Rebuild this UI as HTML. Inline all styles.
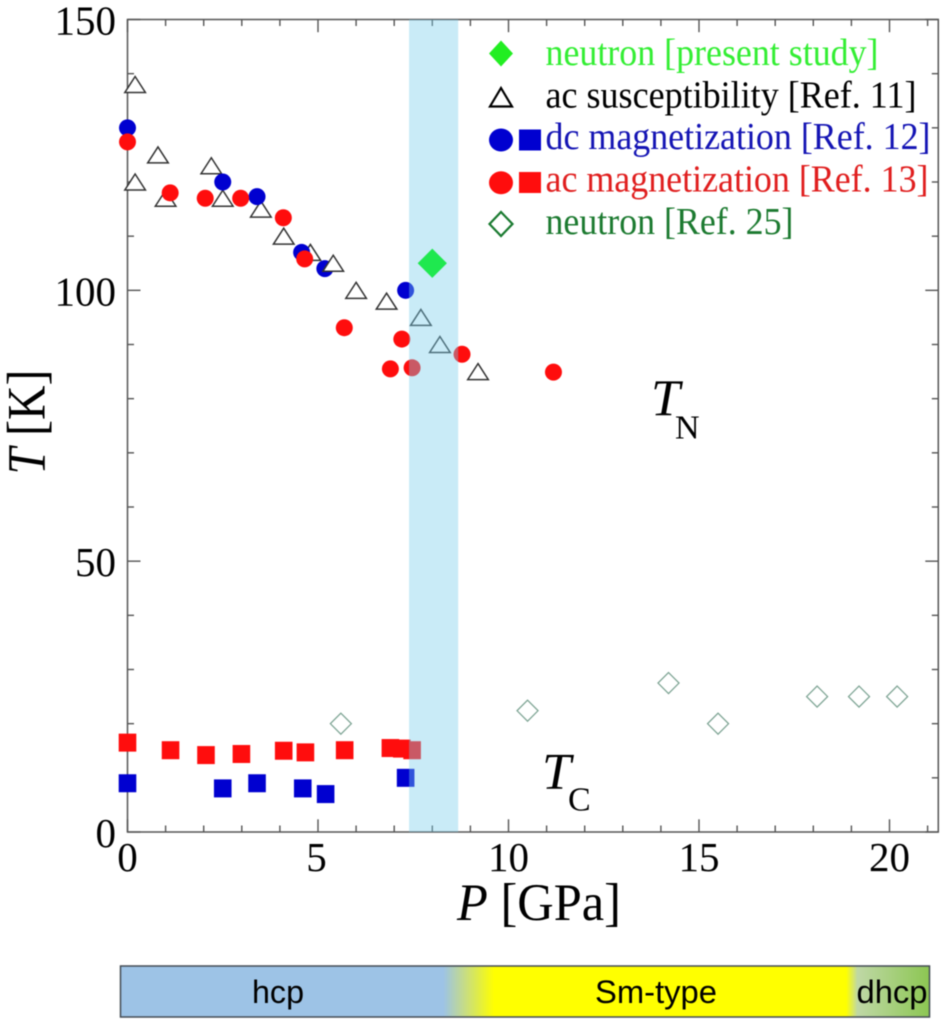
<!DOCTYPE html>
<html>
<head>
<meta charset="utf-8">
<title>Phase diagram T vs P</title>
<style>
html,body{margin:0;padding:0;background:#fff;}
svg{display:block;font-family:"Liberation Serif",serif;filter:blur(0.4px);}
</style>
</head>
<body>
<svg id="chart" width="944" height="1026" viewBox="0 0 944 1026" xmlns="http://www.w3.org/2000/svg">
  <defs>
    <linearGradient id="phaseGrad" gradientUnits="userSpaceOnUse" x1="120.5" y1="0" x2="929.5" y2="0">
      <stop offset="0" stop-color="#9dc3e6"/>
      <stop offset="0.399" stop-color="#9dc3e6"/>
      <stop offset="0.462" stop-color="#ffff00"/>
      <stop offset="0.897" stop-color="#ffff00"/>
      <stop offset="0.911" stop-color="#bfd8a6"/>
      <stop offset="1" stop-color="#8cc652"/>
    </linearGradient>
  </defs>
  <g id="axes"></g>
  <g id="marks"></g>
  <g id="legend">
    <polygon points="501,40.5 513,53.5 501,66.5 489,53.5" fill="#22ee22"/>
    <text x="545.5" y="65" font-size="38" fill="#33ee33" textLength="333" lengthAdjust="spacingAndGlyphs">neutron [present study]</text>
    <polygon points="501,88 512,106.5 490,106.5" fill="none" stroke="#000" stroke-width="2.2"/>
    <text x="545.5" y="107.3" font-size="38" fill="#000" textLength="371" lengthAdjust="spacingAndGlyphs">ac susceptibility [Ref. 11]</text>
    <ellipse cx="501" cy="140" rx="12" ry="11.5" fill="#0000d0"/>
    <rect x="519" y="129.5" width="22" height="21" fill="#0000d0"/>
    <text x="545.5" y="149" font-size="38" fill="#1414b4" textLength="385" lengthAdjust="spacingAndGlyphs">dc magnetization [Ref. 12]</text>
    <ellipse cx="501" cy="182.7" rx="12" ry="11.5" fill="#ff0d0d"/>
    <rect x="519" y="172" width="22" height="21" fill="#ff0d0d"/>
    <text x="545.5" y="191.7" font-size="38" fill="#e01e1e" textLength="383" lengthAdjust="spacingAndGlyphs">ac magnetization [Ref. 13]</text>
    <polygon points="501,212 512.5,224 501,236 489.5,224" fill="none" stroke="#1a7a30" stroke-width="2.2"/>
    <text x="545.5" y="234" font-size="38" fill="#1c7a30" textLength="248" lengthAdjust="spacingAndGlyphs">neutron [Ref. 25]</text>
  </g>
  <text transform="translate(44.7,474.5) rotate(-90)" font-size="54" fill="#000" textLength="105" lengthAdjust="spacingAndGlyphs"><tspan font-style="italic">T</tspan> [K]</text>
  <text x="457" y="920" font-size="53" fill="#000" textLength="164" lengthAdjust="spacingAndGlyphs"><tspan font-style="italic">P</tspan> [GPa]</text>
  <g>
    <text x="651" y="415.7" font-size="52" font-style="italic" fill="#000">T</text>
    <text x="675" y="438.3" font-size="34" fill="#000">N</text>
  </g>
  <g>
    <text x="542" y="789" font-size="52" font-style="italic" fill="#000">T</text>
    <text x="568" y="810.7" font-size="34" fill="#000">C</text>
  </g>
  <g style='font-family:"Liberation Sans",sans-serif'>
    <rect x="120.5" y="966" width="809" height="51" fill="url(#phaseGrad)" stroke="#444c55" stroke-width="1.5"/>
    <text x="252" y="1003" font-size="32" fill="#000" textLength="52" lengthAdjust="spacingAndGlyphs">hcp</text>
    <text x="595" y="1003" font-size="32" fill="#000" textLength="122" lengthAdjust="spacingAndGlyphs">Sm-type</text>
    <text x="856.5" y="1003" font-size="32" fill="#000" textLength="71" lengthAdjust="spacingAndGlyphs">dhcp</text>
  </g>
<script>
const xMajorTicks = [0, 5, 10, 15, 20];
const xMinorTicks = [1, 2, 3, 4, 6, 7, 8, 9, 11, 12, 13, 14, 16, 17, 18, 19, 21];
const yMajorTicks = [0, 50, 100, 150];
const yMinorTicks = [10, 20, 30, 40, 60, 70, 80, 90, 110, 120, 130, 140];
const highlightBand = [7.39, 8.68];

const acSuscP = [0.2, 0.2, 0.8, 1.0, 2.2, 2.5, 3.5, 4.1, 4.8, 6.0, 6.8, 7.7, 8.2, 9.2];
const acSuscT = [138, 120, 125, 117, 123, 117, 115, 110, 107, 100, 98, 95, 90, 85];
const acSuscFrontP = [5.4];
const acSuscFrontT = [105];

const dcCircleP = [0, 2.5, 3.4, 4.57, 5.18, 7.3];
const dcCircleT = [130, 120, 117.3, 107, 104, 100];
const acCircleP = [0, 1.12, 2.04, 2.97, 4.09, 4.65, 5.69, 7.2, 6.9, 7.47, 8.78, 11.18];
const acCircleT = [127.4, 118, 117, 117, 113.4, 105.8, 93.1, 91, 85.5, 85.7, 88.2, 84.9];

const acSquareP = [0, 1.13, 2.06, 2.99, 4.1, 4.67, 5.7, 6.9, 7.2, 7.47];
const acSquareT = [16.5, 15.1, 14.2, 14.4, 15, 14.7, 15.1, 15.5, 15.4, 15.1];
const dcSquareP = [0, 2.5, 3.4, 4.6, 5.2, 7.3];
const dcSquareT = [9, 8.05, 9, 8.05, 7, 10];

const neutronRefP = [5.6, 10.5, 14.2, 15.5, 18.1, 19.2, 20.2];
const neutronRefT = [20, 22.4, 27.5, 20, 25, 25, 25];
const neutronPresentP = [8.0];
const neutronPresentT = [105];

const NS = 'http://www.w3.org/2000/svg';
const plotLeft = 127.5, plotRight = 938.3, plotTop = 19.5, plotBottom = 832;
const pxPerGPa = 38.1, pxPerK = (plotBottom - plotTop) / 150;
function xScale(p) { return plotLeft + p * pxPerGPa; }
function yScale(t) { return plotBottom - t * pxPerK; }

const axes = document.getElementById('axes');
const marks = document.getElementById('marks');
const AXIS = '#555';

function make(tag, attrs, parent) {
  const el = document.createElementNS(NS, tag);
  for (const k in attrs) el.setAttribute(k, attrs[k]);
  parent.appendChild(el);
  return el;
}
function tickLine(x1, y1, x2, y2, name) {
  const el = make('line', {x1: x1, y1: y1, x2: x2, y2: y2, stroke: AXIS, 'stroke-width': 1.4}, axes);
  
  
}

const frame = make('rect', {x: plotLeft, y: plotTop, width: plotRight - plotLeft, height: plotBottom - plotTop, fill: 'none', stroke: AXIS, 'stroke-width': 1.5}, axes);



function xTicks(values, len, name) {
  values.forEach(function (v) {
    const x = xScale(v);
    tickLine(x, plotBottom, x, plotBottom - len, name + '-bottom');
    tickLine(x, plotTop, x, plotTop + len, name + '-top');
  });
}
function yTicks(values, len, name) {
  values.forEach(function (v) {
    const y = yScale(v);
    tickLine(plotLeft, y, plotLeft + len, y, name + '-left');
    tickLine(plotRight, y, plotRight - len, y, name + '-right');
  });
}
xTicks(xMajorTicks, 12.7, 'x-major-tick');
xTicks(xMinorTicks, 6.5, 'x-minor-tick');
yTicks(yMajorTicks, 13, 'y-major-tick');
yTicks(yMinorTicks, 6.5, 'y-minor-tick');

xMajorTicks.forEach(function (v) {
  const t = make('text', {x: xScale(v) - (v === 5 ? 1.5 : 0), y: 871, 'font-size': 41, 'text-anchor': 'middle', fill: '#000'}, axes);
  
  
  t.textContent = String(v);
});
yMajorTicks.forEach(function (v) {
  const t = make('text', {x: 116, y: yScale(v) + 15, 'font-size': 41, 'text-anchor': 'end', fill: '#000'}, axes);
  
  
  t.textContent = String(v);
});

function drawTriangles(ps, ts, name) {
  ps.forEach(function (p, i) {
    const cx = xScale(p), cy = yScale(ts[i]);
    const el = make('polygon', {points: (cx) + ',' + (cy - 8) + ' ' + (cx + 10.3) + ',' + (cy + 8) + ' ' + (cx - 10.3) + ',' + (cy + 8), fill: '#fff', stroke: '#333', 'stroke-width': 1.5}, marks);
    
    
  });
}
function drawCircles(ps, ts, color, name) {
  ps.forEach(function (p, i) {
    const el = make('circle', {cx: xScale(p), cy: yScale(ts[i]), r: 8.5, fill: color}, marks);
    
    
  });
}
function drawSquares(ps, ts, color, name) {
  ps.forEach(function (p, i) {
    const el = make('rect', {x: xScale(p) - 8.8, y: yScale(ts[i]) - 9, width: 17.6, height: 18, fill: color}, marks);
    
    
  });
}
function diamondPoints(cx, cy, h) {
  return cx + ',' + (cy - h) + ' ' + (cx + h) + ',' + cy + ' ' + cx + ',' + (cy + h) + ' ' + (cx - h) + ',' + cy;
}
function drawOpenDiamonds(ps, ts, name) {
  ps.forEach(function (p, i) {
    const el = make('polygon', {points: diamondPoints(xScale(p), yScale(ts[i]), 10.5), fill: 'none', stroke: '#7fa595', 'stroke-width': 1.3}, marks);
    
    
  });
}
function drawFilledDiamonds(ps, ts, name) {
  ps.forEach(function (p, i) {
    const el = make('polygon', {points: diamondPoints(xScale(p), yScale(ts[i]), 14.6), fill: '#1fe84f'}, marks);
    
    
  });
}

drawTriangles(acSuscP, acSuscT, 'ac-susceptibility-point');
drawCircles(dcCircleP, dcCircleT, '#0000d0', 'dc-neel-point');
drawTriangles(acSuscFrontP, acSuscFrontT, 'ac-susceptibility-point');
drawCircles(acCircleP, acCircleT, '#ff0d0d', 'ac-neel-point');
drawSquares(acSquareP, acSquareT, '#ff0d0d', 'ac-curie-point');
drawSquares(dcSquareP, dcSquareT, '#0000d0', 'dc-curie-point');
drawOpenDiamonds(neutronRefP, neutronRefT, 'neutron-ref-point');

const band = make('rect', {x: xScale(highlightBand[0]), y: plotTop, width: xScale(highlightBand[1]) - xScale(highlightBand[0]), height: plotBottom - plotTop, fill: 'rgb(120,205,235)', 'fill-opacity': 0.4}, marks);



drawFilledDiamonds(neutronPresentP, neutronPresentT, 'neutron-present-point');
</script>
</svg>
</body>
</html>
